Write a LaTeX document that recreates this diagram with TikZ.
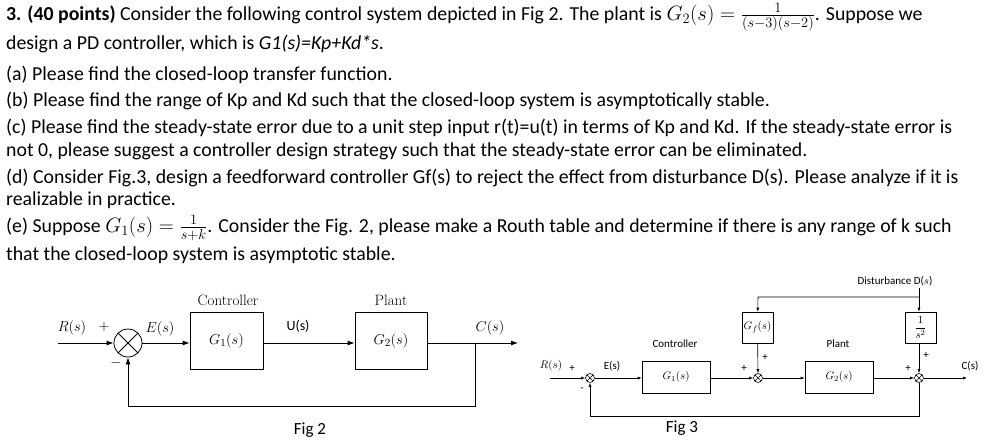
\documentclass[tikz,border=0pt]{standalone}
\usepackage{fontspec}
\setmainfont{Carlito}
\usetikzlibrary{arrows.meta}
\begin{document}
\begin{tikzpicture}[x=1pt,y=-1pt,
 txt/.style={anchor=west,inner sep=0pt,font=\fontsize{19.8}{22}\selectfont},
 blk/.style={draw,line width=0.8pt,minimum width=#1,inner sep=0pt},
 sm/.style={draw,circle,line width=0.8pt,minimum size=#1,inner sep=0pt,path picture={\draw (path picture bounding box.north west)--(path picture bounding box.south east) (path picture bounding box.north east)--(path picture bounding box.south west);}},
 ar/.style={-{Latex[length=7pt,width=5pt]},line width=0.8pt},
 ars/.style={-{Latex[length=4pt,width=3pt]},line width=0.6pt},
 ln/.style={line width=0.8pt},
 tm/.style={font=\fontfamily{lmr}\fontsize{15}{17}\selectfont,inner sep=1pt},
 sf/.style={font=\fontsize{11}{13}\selectfont,inner sep=1pt}]
\useasboundingbox (0,0) rectangle (986,442);
\node[txt] (l1) at (6,17) {\textbf{3. (40 points)} Consider the following control system depicted in Fig 2. The plant is $G_2(s)=\frac{1}{(s-3)(s-2)}$. Suppose we};
\node[txt] (l2) at (6,44) {design a PD controller, which is \textit{G1(s)=Kp+Kd*s}.};
\node[txt] (l3) at (6,75) {(a) Please find the closed-loop transfer function.};
\node[txt] (l4) at (6,101) {(b) Please find the range of Kp and Kd such that the closed-loop system is asymptotically stable.};
\node[txt] (l5) at (6,128) {(c) Please find the steady-state error due to a unit step input r(t)=u(t) in terms of Kp and Kd. If the steady-state error is};
\node[txt] (l6) at (6,151) {not 0, please suggest a controller design strategy such that the steady-state error can be eliminated.};
\node[txt] (l7) at (6,178) {(d) Consider Fig.3, design a feedforward controller Gf(s) to reject the effect from disturbance D(s). Please analyze if it is};
\node[txt] (l8) at (6,200) {realizable in practice.};
\node[txt] (l9) at (6,228) {(e) Suppose $G_1(s)=\frac{1}{s+k}$. Consider the Fig. 2, please make a Routh table and determine if there is any range of k such};
\node[txt] (l10) at (6,255) {that the closed-loop system is asymptotic stable.};
% Fig 2
\coordinate (r2) at (58,343);
\node[sm=28pt] (s2) at (128,343) {};
\node[blk=73pt,minimum height=57pt,tm] (g1) at (226.5,340.5) {$G_1(s)$};
\node[blk=72pt,minimum height=57pt,tm] (g2) at (391,340.5) {$G_2(s)$};
\coordinate (b2) at (475,343);
\coordinate (o2) at (518,343);
\draw[ar] (r2) -- (s2);
\draw[ar] (s2) -- (g1.west|-s2);
\draw[ar] (g1.east|-s2) -- (g2.west|-s2);
\draw[ln] (g2.east|-s2) -- (b2);
\draw[ar] (b2) -- (o2);
\draw[ar] (b2) -- (475,406) -- (128,406) -- (s2);
\node[tm] (lr2) at (72,328) {$R(s)$};
\node[tm] (lp2) at (104,327) {$+$};
\node[tm] (lm2) at (116,363) {$-$};
\node[tm] (le2) at (160,329) {$E(s)$};
\node[tm] (lc2) at (490,328) {$C(s)$};
\node[tm] (lcon2) at (228,300) {Controller};
\node[tm] (lpl2) at (391,300) {Plant};
\node[font=\fontsize{14}{16}\selectfont] (lu2) at (298,326) {U(s)};
\node[font=\fontsize{17}{19}\selectfont] (f2) at (310,430) {Fig 2};
% Fig 3
\coordinate (r3) at (550,378);
\node[sm=9pt,line width=0.6pt] (sa) at (590,378) {};
\node[blk=68pt,minimum height=32pt,line width=0.6pt,sf] (h1) at (676,377) {$G_1(s)$};
\node[sm=9pt,line width=0.6pt] (sb) at (758,378) {};
\node[blk=31pt,minimum height=31pt,line width=0.6pt,sf] (gf) at (757.5,327.5) {$G_f(s)$};
\node[blk=68pt,minimum height=32pt,line width=0.6pt,sf] (h2) at (839,377) {$G_2(s)$};
\node[sm=9pt,line width=0.6pt] (sc) at (919,378) {};
\node[blk=31pt,minimum height=31pt,line width=0.6pt,sf] (ds) at (920.5,327.5) {$\displaystyle\frac{1}{s^2}$};
\coordinate (o3) at (967,378);
\coordinate (dtop) at (919,288);
\coordinate (dj) at (919,297);
\draw[ars] (r3) -- (sa);
\draw[ars] (sa) -- (h1.west|-sa);
\draw[ars] (h1.east|-sa) -- (sb);
\draw[ars] (sb) -- (h2.west|-sb);
\draw[ars] (h2.east|-sb) -- (sc);
\draw[ars] (sc) -- (o3);
\draw[ars] (sc) -- (919,416) -- (590,416) -- (sa);
\draw[ars] (gf) -- (sb);
\draw[ars] (ds.south-|sc) -- (sc);
\draw[ars] (dtop) -- (ds.north-|dtop);
\draw[ars] (dj) -- (758,297) -- (gf);
\node[sf] (lr3) at (551,366) {$R(s)$};
\node[sf] (lp3) at (572,368) {+};
\node[sf] (lm3) at (582,390) {-};
\node[sf] (le3) at (612,366) {E(s)};
\node[sf] (lpb1) at (744,368) {+};
\node[sf] (lpb2) at (765,357) {+};
\node[sf] (lpc1) at (908,368) {+};
\node[sf] (lpc2) at (926,355) {+};
\node[sf] (lc3) at (970,366) {C(s)};
\node[sf] (lcon3) at (675,344) {Controller};
\node[sf] (lpl3) at (838,344) {Plant};
\node[sf] (ldist) at (895,281) {Disturbance D($s$)};
\node[font=\fontsize{17}{19}\selectfont] (f3) at (682,428) {Fig 3};
\end{tikzpicture}
\end{document}
